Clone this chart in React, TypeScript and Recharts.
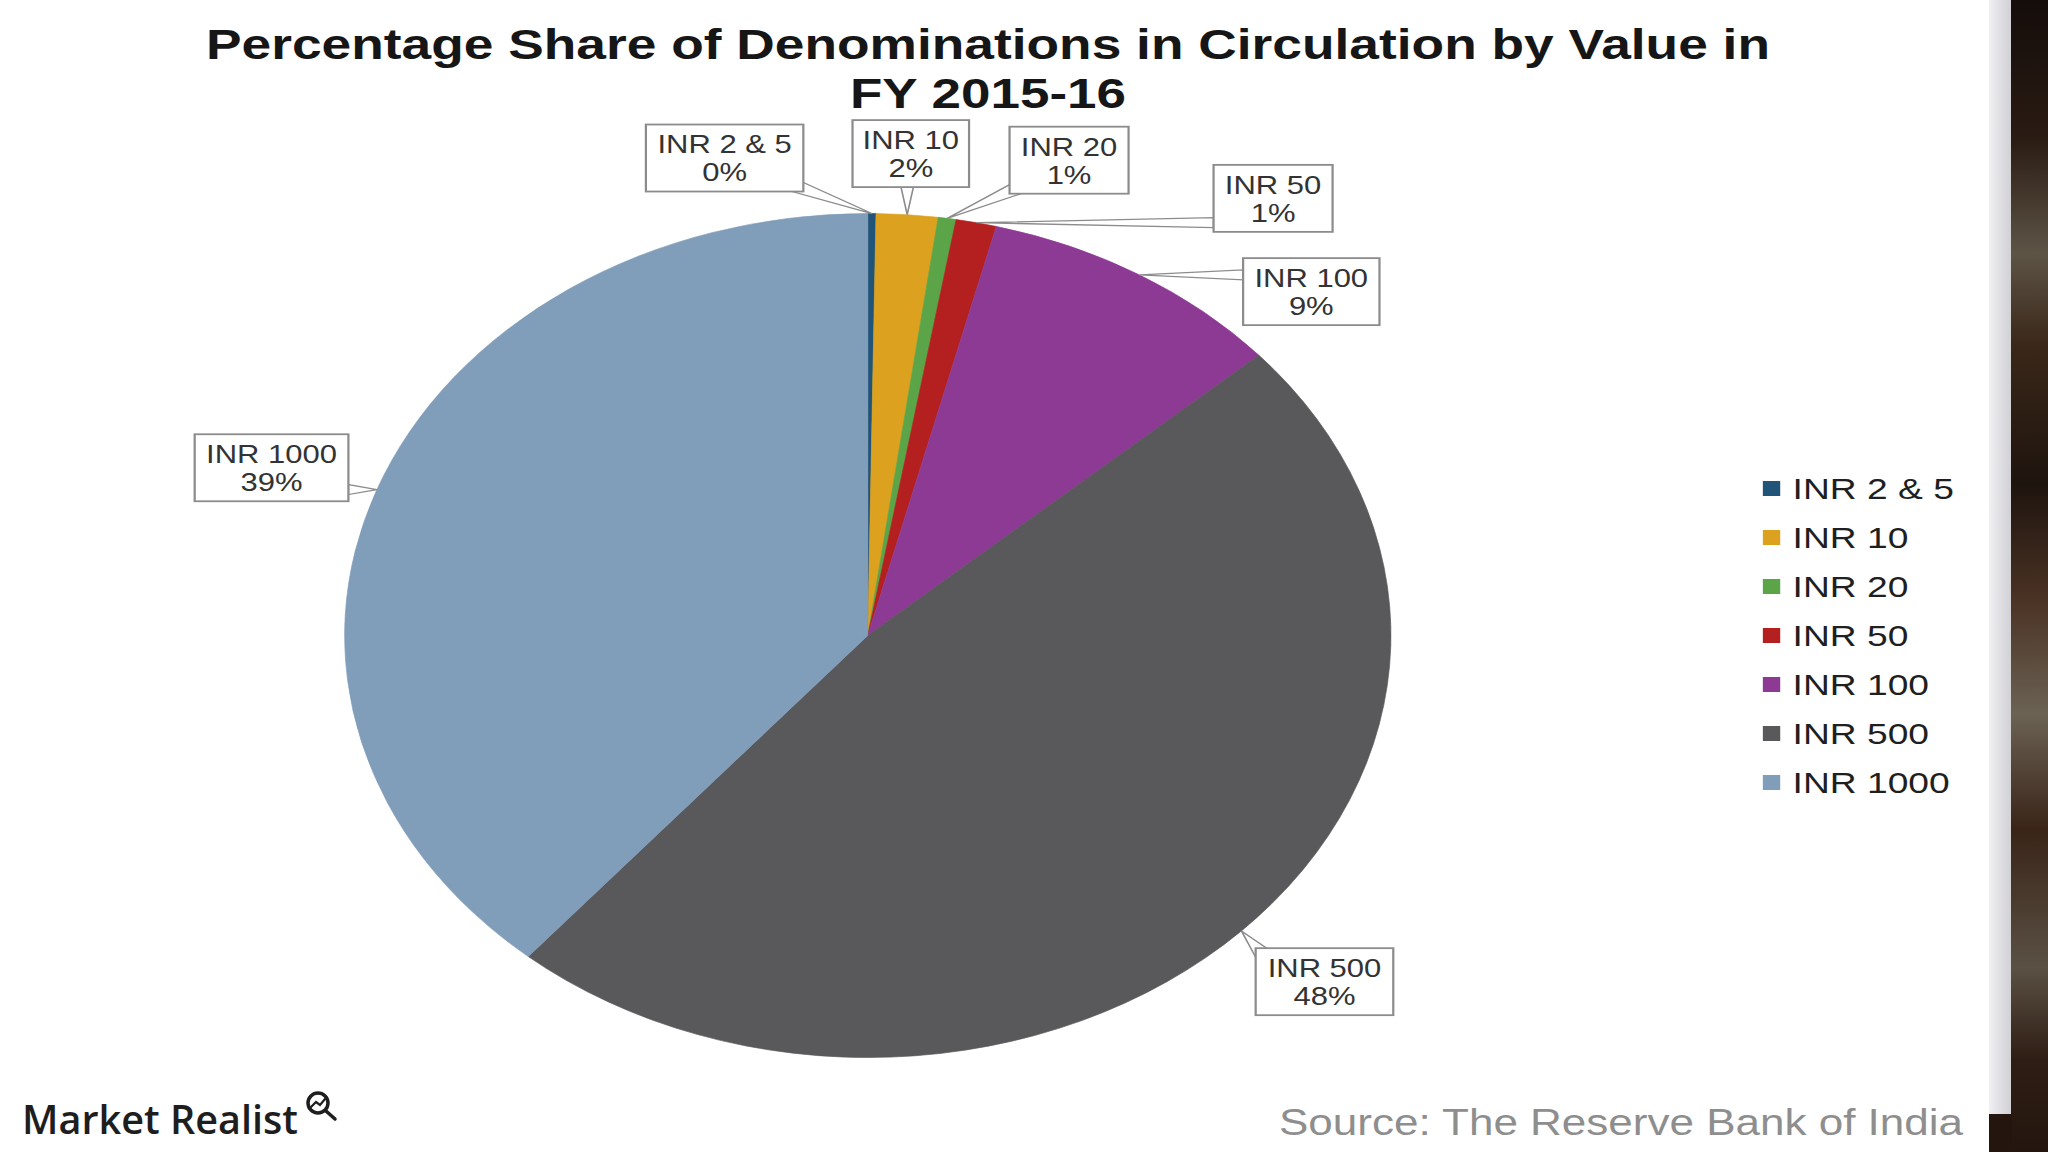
import React from 'react';
import { PieChart, Pie, Cell, Legend } from 'recharts';

// ---------- data ----------
const categories = ['INR 2 & 5', 'INR 10', 'INR 20', 'INR 50', 'INR 100', 'INR 500', 'INR 1000'];
const shares = [0.25, 1.9, 0.55, 1.25, 9.49, 47.8, 38.76];
const colors = ['#205478', '#dba11f', '#5ba448', '#b3201f', '#8d3a95', '#59585a', '#809db9'];
const titleLines = ['Percentage Share of Denominations in Circulation by Value in', 'FY 2015-16'];
const brandText = 'Market Realist';
const sourceText = 'Source: The Reserve Bank of India';

// label box layout: offset of box centre from the slice's outer-edge midpoint, and box width
const labelLayout = [
  { dx: -118.8, dy: -55.5, w: 127 },
  { dx: 2.9, dy: -61.1, w: 94 },
  { dx: 98.3, dy: -58.2, w: 96 },
  { dx: 239.4, dy: -24.3, w: 96 },
  { dx: 138.5, dy: 16.7, w: 110 },
  { dx: 67, dy: 50.8, w: 111 },
  { dx: -85, dy: -21.8, w: 124 },
];

const data = categories.map((name, i) => ({ name, value: shares[i] }));

const SX = 1.2397; // horizontal stretch of the original picture
const W = 1652;
const H = 1152;
const RAD = Math.PI / 180;
const BOX_H = 67;
const clamp = (v: number, a: number, b: number) => Math.max(a, Math.min(b, v));

function renderLabel(props: any) {
  const { cx, cy, midAngle, outerRadius, index } = props;
  const name = props.name ?? props.payload?.name;
  const value = props.value ?? props.payload?.value;
  const lay = labelLayout[index];
  const ax = cx + outerRadius * Math.cos(-midAngle * RAD);
  const ay = cy + outerRadius * Math.sin(-midAngle * RAD);
  const bx = ax + lay.dx;
  const by = ay + lay.dy;
  const left = bx - lay.w / 2, right = bx + lay.w / 2, top = by - BOX_H / 2, bottom = by + BOX_H / 2;
  const tx = clamp(ax, left, right);
  const ty = clamp(ay, top, bottom);
  const onV = tx === left || tx === right;
  const onH = ty === top || ty === bottom;
  let p1: number[], p2: number[];
  if (onV && onH) {
    const ix = tx === left ? 1 : -1;
    const iy = ty === top ? 1 : -1;
    p1 = [tx + ix * 9, ty];
    p2 = [tx, ty + iy * 9];
  } else if (onV) {
    p1 = [tx, clamp(ty - 5, top, bottom)];
    p2 = [tx, clamp(ty + 5, top, bottom)];
  } else {
    p1 = [clamp(tx - 5, left, right), ty];
    p2 = [clamp(tx + 5, left, right), ty];
  }
  return (
    <g key={`lbl-${index}`}>
      <polygon
        points={`${ax},${ay} ${p1[0]},${p1[1]} ${p2[0]},${p2[1]}`}
        fill="#ffffff"
        stroke="#8c8c8c"
        strokeWidth={1.3}
      />
      <rect x={left} y={top} width={lay.w} height={BOX_H} fill="#ffffff" stroke="#8c8c8c" strokeWidth={1.8} />
      <text
        x={bx}
        y={by - 13}
        textAnchor="middle"
        dominantBaseline="central"
        fontFamily="'Liberation Sans', Arial, sans-serif"
        fontSize={25}
        fill="#333333"
      >
        {name}
      </text>
      <text
        x={bx}
        y={by + 15}
        textAnchor="middle"
        dominantBaseline="central"
        fontFamily="'Liberation Sans', Arial, sans-serif"
        fontSize={25}
        fill="#333333"
      >
        {`${Math.round(value)}%`}
      </text>
    </g>
  );
}

function renderLegend(props: any) {
  const payload = [...(props.payload || [])].sort(
    (a: any, b: any) => categories.indexOf(a.value) - categories.indexOf(b.value)
  );
  return (
    <div style={{ fontFamily: "'Liberation Sans', Arial, sans-serif", fontSize: 30, color: '#1f1f1f' }}>
      {payload.map((p: any, i: number) => (
        <div key={i} style={{ display: 'flex', alignItems: 'center', height: 49 }}>
          <span style={{ display: 'inline-block', width: 14, height: 15, background: p.color, marginRight: 10 }} />
          <span style={{ lineHeight: '49px', whiteSpace: 'nowrap' }}>{p.value}</span>
        </div>
      ))}
    </div>
  );
}

export default function App() {
  return (
    <div style={{ position: 'absolute', left: 0, top: 0, width: 2048, height: 1152, background: '#ffffff', overflow: 'hidden' }}>
      <div style={{ position: 'absolute', left: 0, top: 0, width: W, height: H, transform: `scaleX(${SX})`, transformOrigin: '0 0' }}>
        <PieChart width={W} height={H} margin={{ top: 0, right: 0, bottom: 0, left: 0 }}>
          <Pie
            data={data}
            dataKey="value"
            nameKey="name"
            cx={700}
            cy={635.5}
            outerRadius={422}
            startAngle={90}
            endAngle={-270}
            label={renderLabel}
            labelLine={false}
            isAnimationActive={false}
          >
            {data.map((d, i) => (
              <Cell key={d.name} fill={colors[i]} stroke={colors[i]} strokeWidth={0.6} />
            ))}
          </Pie>
          <Legend
            layout="vertical"
            align="right"
            verticalAlign="top"
            content={renderLegend}
            wrapperStyle={{ left: 1422, top: 463.5, width: 230 }}
          />
        </PieChart>
      </div>
      <svg width={2048} height={1152} style={{ position: 'absolute', left: 0, top: 0, pointerEvents: 'none' }}>
        <defs>
          <linearGradient id="barGrad" x1="0" y1="0" x2="1" y2="0">
            <stop offset="0" stopColor="#f0f0f2" />
            <stop offset="1" stopColor="#cfcfd4" />
          </linearGradient>
          <linearGradient id="brick" x1="0" y1="0" x2="0" y2="1">
            <stop offset="0" stopColor="#140d0a" />
            <stop offset="0.12" stopColor="#2a1b13" />
            <stop offset="0.22" stopColor="#5d5446" />
            <stop offset="0.3" stopColor="#3a2719" />
            <stop offset="0.42" stopColor="#1e140e" />
            <stop offset="0.52" stopColor="#4a3224" />
            <stop offset="0.62" stopColor="#6b6254" />
            <stop offset="0.72" stopColor="#3a2418" />
            <stop offset="0.84" stopColor="#5a5044" />
            <stop offset="0.92" stopColor="#2e1d14" />
            <stop offset="1" stopColor="#24160f" />
          </linearGradient>
        </defs>
        <text x={206} y={59} textLength={1564} lengthAdjust="spacingAndGlyphs"
          fontFamily="'Liberation Sans', Arial, sans-serif" fontWeight="bold" fontSize={43} fill="#161616">
          {titleLines[0]}
        </text>
        <text x={850} y={108} textLength={276} lengthAdjust="spacingAndGlyphs"
          fontFamily="'Liberation Sans', Arial, sans-serif" fontWeight="bold" fontSize={43} fill="#161616">
          {titleLines[1]}
        </text>
        <text x={22} y={1134} textLength={276} lengthAdjust="spacingAndGlyphs"
          fontFamily="'Open Sans', sans-serif" fontWeight={600} fontSize={39} fill="#1e1e1e">
          {brandText}
        </text>
        <g stroke="#1e1e1e" strokeWidth={3.5} fill="none" strokeLinecap="round">
          <circle cx={318} cy={1103} r={10} />
          <line x1={326} y1={1111} x2={335} y2={1119} />
          <polyline points="311,1107 316,1102 320,1105 325,1099" strokeWidth={2.2} />
        </g>
        <text x={1279} y={1135} textLength={684} lengthAdjust="spacingAndGlyphs"
          fontFamily="'Liberation Sans', Arial, sans-serif" fontSize={36} fill="#8e8e8e">
          {sourceText}
        </text>
        <rect x={1989} y={0} width={23} height={1114} fill="url(#barGrad)" />
        <rect x={2011} y={0} width={37} height={1152} fill="url(#brick)" />
        <rect x={1989} y={1114} width={23} height={38} fill="#24160f" />
      </svg>
    </div>
  );
}
